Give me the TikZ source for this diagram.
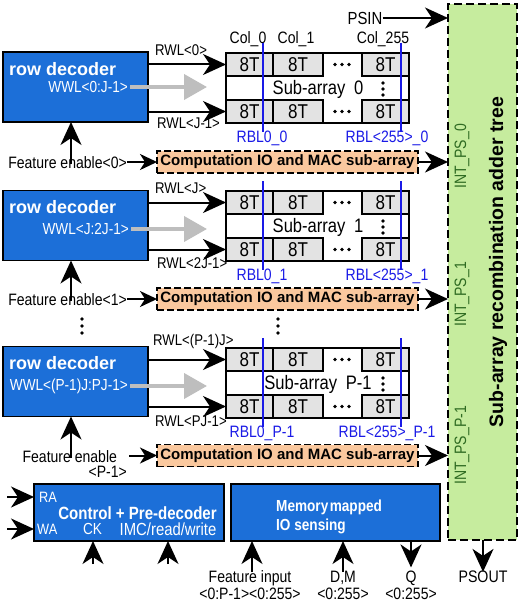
\documentclass[tikz,border=0pt]{standalone}
\usepackage{fontspec}
\setmainfont{Liberation Sans}
\newfontfamily\cf{Liberation Sans}[FakeStretch=0.85]
\usetikzlibrary{arrows.meta}
\definecolor{decblue}{HTML}{1C6FD8}
\definecolor{cellgray}{HTML}{E3E3E3}
\definecolor{peach}{HTML}{FAC89E}
\definecolor{lgreen}{HTML}{C6EC9E}
\definecolor{rblblue}{HTML}{1A1AE6}
\definecolor{intgreen}{HTML}{2F6B22}
\definecolor{wwlgray}{HTML}{BEBEBE}
\newcommand{\fsz}[1]{\fontsize{#1}{#1}\selectfont}
\tikzset{
  box/.style={draw=black, line width=1.6pt, inner sep=0pt, outer sep=0pt},
  dec/.style={box, fill=decblue, minimum width=145pt, minimum height=70pt},
  ctl/.style={box, fill=decblue, minimum height=57pt},
  cell/.style={box, fill=cellgray, minimum height=23pt, font=\cf\fsz{20}},
  outerbox/.style={box, fill=white, minimum width=183pt, minimum height=70pt},
  comp/.style={box, dash pattern=on 7pt off 3pt, fill=peach, minimum width=261pt, minimum height=22pt, font=\bfseries\fsz{15}},
  green/.style={box, dash pattern=on 8pt off 4pt, fill=lgreen, minimum width=69pt, minimum height=536pt},
  arr/.style={line width=2pt, -{Stealth[length=23pt,width=21pt,inset=7pt]}},
  sarr/.style={line width=2pt, -{Stealth[length=17pt,width=16pt,inset=5pt]}},
  wwl/.style={line width=4pt, draw=wwlgray, -{Triangle[length=23pt,width=25pt]}},
  rbl/.style={line width=1.8pt, draw=rblblue},
  txt/.style={inner sep=0pt, font=\cf\fsz{16.5}},
  wtxt/.style={inner sep=0pt, text=white, font=\cf\fsz{16}},
  wbold/.style={inner sep=0pt, text=white, font=\bfseries\fsz{18}},
  rbllab/.style={inner sep=0pt, text=rblblue, font=\cf\fsz{16.5}},
  rwllab/.style={inner sep=0pt, anchor=west, font=\cf\fsz{15.5}},
  intlab/.style={inner sep=0pt, text=intgreen, font=\cf\fsz{16.5}, rotate=90, anchor=west},
  dotm/.style={fill=black, circle, inner sep=0pt, minimum size=3.8pt}
}
\begin{document}
\begin{tikzpicture}[x=1pt,y=-1pt]
\useasboundingbox (0,0) rectangle (520,602);

% green adder tree
\node[green] (green) at (482.5,272) {};
\node[inner sep=0pt, rotate=90, font=\bfseries\fsz{19.5}] (gtitle) at (498,262) {Sub-array recombination adder tree};

% PSIN
\node[txt, font=\cf\fsz{17.5}] (psin) at (365,18) {PSIN};
\draw[arr] (psin.east) -- (psin.east -| green.west);

% column labels
\node[txt] (col0) at (248,39) {Col\_0};
\node[txt] (col1) at (296,39) {Col\_1};
\node[txt] (col255) at (383,39) {Col\_255};

% sub-arrays
\foreach \k/\T/\nm in {0/53/0, 1/191/1, 2/348/P-1}{
  \node[outerbox] (sa\k) at (317.5,{\T+35}) {};
  \node[cell, minimum width=47pt] (c\k t1) at (249.5,{\T+11.5}) {8T};
  \node[cell, minimum width=50pt] (c\k t2) at (298,{\T+11.5}) {8T};
  \node[cell, minimum width=47pt] (c\k t3) at (385.5,{\T+11.5}) {8T};
  \node[cell, minimum width=47pt] (c\k b1) at (249.5,{\T+58.5}) {8T};
  \node[cell, minimum width=50pt] (c\k b2) at (298,{\T+58.5}) {8T};
  \node[cell, minimum width=47pt] (c\k b3) at (385.5,{\T+58.5}) {8T};
  \foreach \xx in {335,342,349}{
    \node[dotm] at (\xx,{\T+11.5}) {};
    \node[dotm] at (\xx,{\T+58.5}) {};
  }
  \foreach \yy in {30,36,42}{
    \node[dotm] at (383,{\T+\yy}) {};
  }
  \node[inner sep=0pt, font=\cf\fsz{19.5}] (sat\k) at (318,{\T+36}) {Sub-array\hspace{4pt} \nm};
  \draw[rbl] (263,{\T-10}) -- (263,{\T+79});
  \draw[rbl] (401,{\T-10}) -- (401,{\T+79});
  \node[rbllab] (rbla\k) at (262,{\T+85}) {RBL0\_\nm};
  \node[rbllab] (rblb\k) at (387,{\T+85}) {RBL<255>\_\nm};
}

% row decoders
\node[dec] (dec0) at (75.5,87) {};
\node[dec] (dec1) at (75.5,225.5) {};
\node[dec] (dec2) at (75.5,381.5) {};
\node[wbold, anchor=west] (rd0) at (9,69) {row decoder};
\node[wbold, anchor=west] (rd1) at (9,207) {row decoder};
\node[wbold, anchor=west] (rd2) at (9,363) {row decoder};
\node[wtxt, anchor=east] (wwl0) at (128,87) {WWL<0:J-1>};
\node[wtxt, anchor=east] (wwl1) at (129,229) {WWL<J:2J-1>};
\node[wtxt, anchor=east] (wwl2) at (128,386) {WWL<(P-1)J:PJ-1>};
\coordinate (g0) at (207,87);
\coordinate (g1) at (207,229);
\coordinate (g2) at (207,386);
\draw[wwl] ([xshift=2pt]wwl0.east) -- (g0);
\draw[wwl] ([xshift=2pt]wwl1.east) -- (g1);
\draw[wwl] ([xshift=2pt]wwl2.east) -- (g2);

% RWL arrows
\foreach \k in {0,1,2}{
  \draw[arr] (c\k t1.west -| dec\k.east) -- (c\k t1.west);
  \draw[arr] (c\k b1.west -| dec\k.east) -- (c\k b1.west);
}
\node[rwllab] (rwl0) at (155,50) {RWL<0>};
\node[rwllab] (rwl1) at (157,123) {RWL<J-1>};
\node[rwllab] (rwl2) at (155,188) {RWL<J>};
\node[rwllab] (rwl3) at (157,263) {RWL<2J-1>};
\node[rwllab] (rwl4) at (153,341) {RWL<(P-1)J>};
\node[rwllab] (rwl5) at (155,421) {RWL<PJ-1>};

% computation boxes
\node[comp] (comp0) at (287.5,162) {Computation IO and MAC sub-array};
\node[comp] (comp1) at (287.5,299) {Computation IO and MAC sub-array};
\node[comp] (comp2) at (287.5,455.5) {Computation IO and MAC sub-array};
\foreach \k in {0,1,2}{
  \draw[arr] (comp\k.east) -- (comp\k.east -| green.west);
}
\node[intlab] (ip0) at (462,189) {INT\_PS\_0};
\node[intlab] (ip1) at (462,327) {INT\_PS\_1};
\node[intlab] (ip2) at (462,485) {INT\_PS\_P-1};

% feature enables
\node[txt, anchor=east] (fe0) at (127,163) {Feature enable<0>};
\node[txt, anchor=east] (fe1) at (127,300) {Feature enable<1>};
\node[txt, anchor=east, align=left, font=\cf\fontsize{16.5}{15.5}\selectfont] (fe2) at (127,464) {Feature enable\\\hspace*{66pt}<P-1>};
\draw[sarr] (comp0.west -| fe0.east) -- (comp0.west);
\draw[sarr] (comp1.west -| fe1.east) -- (comp1.west);
\draw[sarr] ([xshift=2pt]comp2.west -| fe2.east) -- (comp2.west);
\coordinate (fu0) at (71,164);
\coordinate (fu1) at (71,301);
\coordinate (fu2) at (71,458);
\draw[arr] (fu0) -- (fu0 |- dec0.south);
\draw[arr] (fu1) -- (fu1 |- dec1.south);
\draw[arr] (fu2) -- (fu2 |- dec2.south);

% vertical ellipses between sub-arrays
\foreach \yy in {319,326,333}{
  \node[dotm] at (82,\yy) {};
  \node[dotm] at (278,\yy) {};
}

% control + pre-decoder
\node[ctl, minimum width=190pt] (ctrl) at (129,512.5) {};
\node[wtxt, font=\cf\fsz{15}, anchor=west] (ra) at (39,497) {RA};
\node[wtxt, font=\cf\fsz{15}, anchor=west] (wa) at (37,529) {WA};
\node[wtxt, font=\cf\bfseries\fsz{17.7}] (ctt) at (137.5,513) {Control + Pre-decoder};
\node[wtxt, font=\cf\fsz{16}] (ck) at (92.5,529) {CK};
\node[wtxt, font=\cf\fsz{17.5}] (imc) at (168,529) {IMC/read/write};
\coordinate (raS) at (7,497);
\coordinate (waS) at (7,529);
\draw[arr] (raS) -- (raS -| ctrl.west);
\draw[arr] (waS) -- (waS -| ctrl.west);
\coordinate (ckS) at (93,564);
\coordinate (imcS) at (168,564);
\draw[arr] (ckS) -- (ckS |- ctrl.south);
\draw[arr] (imcS) -- (imcS |- ctrl.south);

% memory mapped IO
\node[ctl, minimum width=209pt] (mem) at (335.5,512.5) {};
\node[wtxt, font=\cf\bfseries\fontsize{16}{19}\selectfont, align=left, anchor=west] (memt) at (276,516.5) {Memory\hspace{1.5pt}mapped\\IO sensing};

% bottom labels
\node[txt, align=center, font=\cf\fontsize{16.5}{17}\selectfont] (fi) at (250,585) {Feature input\\<0:P-1><0:255>};
\node[txt, align=center, font=\cf\fontsize{16.5}{17}\selectfont] (dm) at (343,585) {D,M\\<0:255>};
\node[txt, align=center, font=\cf\fontsize{16.5}{17}\selectfont] (q) at (411,585) {Q\\<0:255>};
\node[txt, font=\cf\fsz{16.7}] (psout) at (483,577) {PSOUT};
\coordinate (fiS) at (252,572);
\coordinate (dmS) at (343,572);
\draw[arr] (fiS) -- (fiS |- mem.south);
\draw[arr] (dmS) -- (dmS |- mem.south);
\draw[arr] (mem.south -| q.north) -- ([yshift=3pt]q.north);
\draw[arr] (green.south -| psout.north) -- ([yshift=-1pt]psout.north);
\end{tikzpicture}
\end{document}
